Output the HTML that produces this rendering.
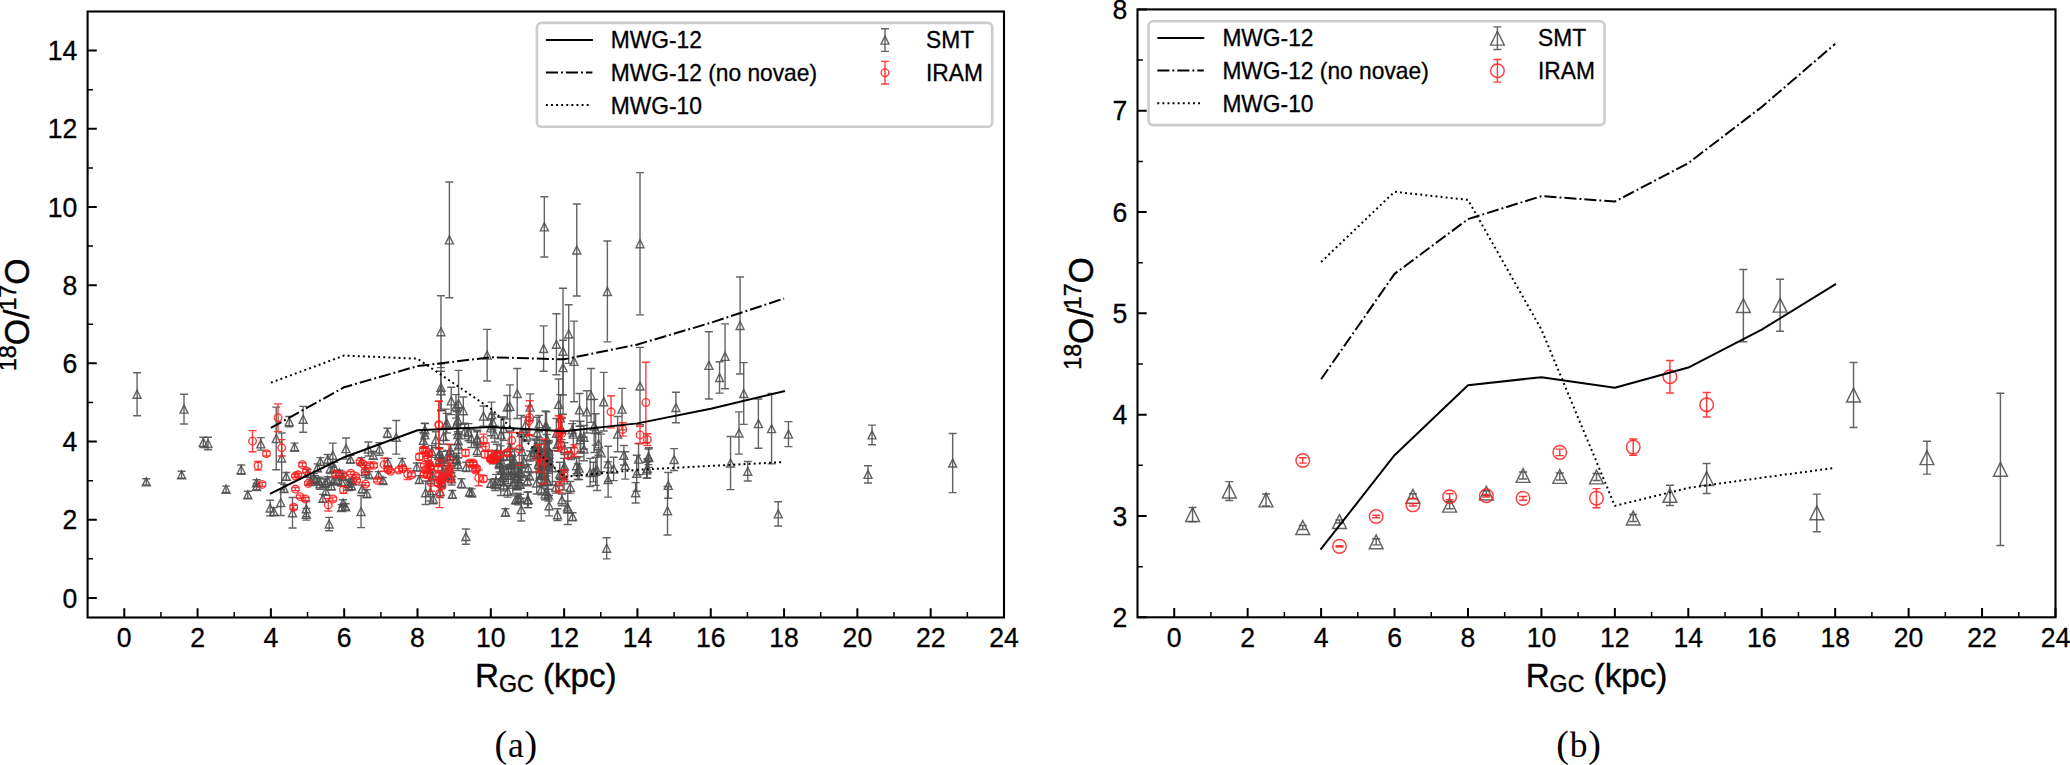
<!DOCTYPE html>
<html lang="en"><head><meta charset="utf-8"><title>18O/17O vs RGC</title>
<style>html,body{margin:0;padding:0;background:#fff}body{width:2070px;height:765px;overflow:hidden}svg{display:block}</style>
</head><body>
<svg width="2070" height="765" viewBox="0 0 2070 765">
<rect width="2070" height="765" fill="#fff"/>
<g id="panel-a">
<g fill="none" stroke="#4d4d4d" stroke-width="1.4" stroke-opacity="0.88">
<path d="M137.09 372.75V415.76M133.09 372.75h8M133.09 415.76h8"/><path d="M137.09 390.26L133.09 398.26L141.09 398.26Z"/>
<path d="M146.25 478.71V484.96M142.25 478.71h8M142.25 484.96h8"/><path d="M146.25 477.83L142.25 485.83L150.25 485.83Z"/>
<path d="M184.01 394.26V423.97M180.01 394.26h8M180.01 423.97h8"/><path d="M184.01 405.11L180.01 413.11L188.01 413.11Z"/>
<path d="M181.62 471.28V478.32M177.62 471.28h8M177.62 478.32h8"/><path d="M181.62 470.8L177.62 478.8L185.62 478.8Z"/>
<path d="M203.29 437.26V447.43M199.29 437.26h8M199.29 447.43h8"/><path d="M203.29 438.35L199.29 446.35L207.29 446.35Z"/>
<path d="M208.01 437.26V449.77M204.01 437.26h8M204.01 449.77h8"/><path d="M208.01 439.52L204.01 447.52L212.01 447.52Z"/>
<path d="M226.05 486.13V492.39M222.05 486.13h8M222.05 492.39h8"/><path d="M226.05 485.26L222.05 493.26L230.05 493.26Z"/>
<path d="M241.19 465.02V474.41M237.19 465.02h8M237.19 474.41h8"/><path d="M241.19 465.71L237.19 473.71L245.19 473.71Z"/>
<path d="M247.79 491.22V498.25M243.79 491.22h8M243.79 498.25h8"/><path d="M247.79 490.74L243.79 498.74L251.79 498.74Z"/>
<path d="M256.58 479.68V485.94M252.58 479.68h8M252.58 485.94h8"/><path d="M256.58 478.81L252.58 486.81L260.58 486.81Z"/>
<path d="M256.58 483.4V489.65M252.58 483.4h8M252.58 489.65h8"/><path d="M256.58 482.53L252.58 490.53L260.58 490.53Z"/>
<path d="M260.8 437.65V450.17M256.8 437.65h8M256.8 450.17h8"/><path d="M260.8 439.91L256.8 447.91L264.8 447.91Z"/>
<path d="M270.15 500.21V515.85M266.15 500.21h8M266.15 515.85h8"/><path d="M270.15 504.03L266.15 512.03L274.15 512.03Z"/>
<path d="M273.81 507.64V515.46M269.81 507.64h8M269.81 515.46h8"/><path d="M273.81 507.55L269.81 515.55L277.81 515.55Z"/>
<path d="M276.23 407.16V469.71M272.23 407.16h8M272.23 469.71h8"/><path d="M276.23 434.44L272.23 442.44L280.23 442.44Z"/>
<path d="M280.78 489.65V515.46M276.78 489.65h8M276.78 515.46h8"/><path d="M280.78 498.56L276.78 506.56L284.78 506.56Z"/>
<path d="M281.69 432.96V483.01M277.69 432.96h8M277.69 483.01h8"/><path d="M281.69 453.99L277.69 461.99L285.69 461.99Z"/>
<path d="M289.21 416.54V426.71M285.21 416.54h8M285.21 426.71h8"/><path d="M289.21 417.63L285.21 425.63L293.21 425.63Z"/>
<path d="M294.52 443.13V450.95M290.52 443.13h8M290.52 450.95h8"/><path d="M294.52 443.04L290.52 451.04L298.52 451.04Z"/>
<path d="M303.14 406.38V432.18M299.14 406.38h8M299.14 432.18h8"/><path d="M303.14 415.28L299.14 423.28L307.14 423.28Z"/>
<path d="M292.51 497.47V527.97M288.51 497.47h8M288.51 527.97h8"/><path d="M292.51 508.72L288.51 516.72L296.51 516.72Z"/>
<path d="M306.29 500.99V516.63M302.29 500.99h8M302.29 516.63h8"/><path d="M306.29 504.81L302.29 512.81L310.29 512.81Z"/>
<path d="M306.29 508.42V520.15M302.29 508.42h8M302.29 520.15h8"/><path d="M306.29 510.28L302.29 518.28L310.29 518.28Z"/>
<path d="M329.16 517.41V530.71M325.16 517.41h8M325.16 530.71h8"/><path d="M329.16 520.06L325.16 528.06L333.16 528.06Z"/>
<path d="M332.83 443.13V467.37M328.83 443.13h8M328.83 467.37h8"/><path d="M332.83 451.25L328.83 459.25L336.83 459.25Z"/>
<path d="M346.02 438.05V459.16M342.02 438.05h8M342.02 459.16h8"/><path d="M346.02 444.6L342.02 452.6L350.02 452.6Z"/>
<path d="M361.05 495.52V527.58M357.05 495.52h8M357.05 527.58h8"/><path d="M361.05 507.55L357.05 515.55L365.05 515.55Z"/>
<path d="M387.45 428.27V437.65M383.45 428.27h8M383.45 437.65h8"/><path d="M387.45 428.96L383.45 436.96L391.45 436.96Z"/>
<path d="M286.28 472.45V480.27M282.28 472.45h8M282.28 480.27h8"/><path d="M286.28 472.36L282.28 480.36L290.28 480.36Z"/>
<path d="M284.08 484.57V492.39M280.08 484.57h8M280.08 492.39h8"/><path d="M284.08 484.48L280.08 492.48L288.08 492.48Z"/>
<path d="M396.24 420.45V454.08M392.24 420.45h8M392.24 454.08h8"/><path d="M396.24 433.26L392.24 441.26L400.24 441.26Z"/>
<path d="M368.38 441.96V456.03M364.38 441.96h8M364.38 456.03h8"/><path d="M368.38 444.99L364.38 452.99L372.38 452.99Z"/>
<path d="M379.38 442.74V455.25M375.38 442.74h8M375.38 455.25h8"/><path d="M379.38 444.99L375.38 452.99L383.38 452.99Z"/>
<path d="M373.15 451.34V459.16M369.15 451.34h8M369.15 459.16h8"/><path d="M373.15 451.25L369.15 459.25L377.15 459.25Z"/>
<path d="M424.84 423.19V446.65M420.84 423.19h8M420.84 446.65h8"/><path d="M424.84 430.92L420.84 438.92L428.84 438.92Z"/>
<path d="M402.11 458.38V466.2M398.11 458.38h8M398.11 466.2h8"/><path d="M402.11 458.29L398.11 466.29L406.11 466.29Z"/>
<path d="M387.81 458.38V466.2M383.81 458.38h8M383.81 466.2h8"/><path d="M387.81 458.29L383.81 466.29L391.81 466.29Z"/>
<path d="M320.37 457.59V465.41M316.37 457.59h8M316.37 465.41h8"/><path d="M320.37 457.5L316.37 465.5L324.37 465.5Z"/>
<path d="M327.7 454.47V463.85M323.7 454.47h8M323.7 463.85h8"/><path d="M327.7 455.16L323.7 463.16L331.7 463.16Z"/>
<path d="M350.42 455.25V463.07M346.42 455.25h8M346.42 463.07h8"/><path d="M350.42 455.16L346.42 463.16L354.42 463.16Z"/>
<path d="M361.42 457.59V465.41M357.42 457.59h8M357.42 465.41h8"/><path d="M361.42 457.5L357.42 465.5L365.42 465.5Z"/>
<path d="M416.77 463.07V470.89M412.77 463.07h8M412.77 470.89h8"/><path d="M416.77 462.98L412.77 470.98L420.77 470.98Z"/>
<path d="M378.65 471.67V477.92M374.65 471.67h8M374.65 477.92h8"/><path d="M378.65 470.8L374.65 478.8L382.65 478.8Z"/>
<path d="M383.05 477.53V483.79M379.05 477.53h8M379.05 483.79h8"/><path d="M383.05 476.66L379.05 484.66L387.05 484.66Z"/>
<path d="M369.12 471.67V477.92M365.12 471.67h8M365.12 477.92h8"/><path d="M369.12 470.8L365.12 478.8L373.12 478.8Z"/>
<path d="M362.15 484.96V492.78M358.15 484.96h8M358.15 492.78h8"/><path d="M362.15 484.87L358.15 492.87L366.15 492.87Z"/>
<path d="M366.92 489.65V497.47M362.92 489.65h8M362.92 497.47h8"/><path d="M366.92 489.56L362.92 497.56L370.92 497.56Z"/>
<path d="M343.09 499.82V506.07M339.09 499.82h8M339.09 506.07h8"/><path d="M343.09 498.95L339.09 506.95L347.09 506.95Z"/>
<path d="M345.66 503.73V509.98M341.66 503.73h8M341.66 509.98h8"/><path d="M345.66 502.86L341.66 510.86L349.66 510.86Z"/>
<path d="M341.63 504.51V510.77M337.63 504.51h8M337.63 510.77h8"/><path d="M341.63 503.64L337.63 511.64L345.63 511.64Z"/>
<path d="M322.93 494.35V502.16M318.93 494.35h8M318.93 502.16h8"/><path d="M322.93 494.25L318.93 502.25L326.93 502.25Z"/>
<path d="M325.86 487.31V495.13M321.86 487.31h8M321.86 495.13h8"/><path d="M325.86 487.22L321.86 495.22L329.86 495.22Z"/>
<path d="M318.9 477.14V484.96M314.9 477.14h8M314.9 484.96h8"/><path d="M318.9 477.05L314.9 485.05L322.9 485.05Z"/>
<path d="M314.87 475.58V483.4M310.87 475.58h8M310.87 483.4h8"/><path d="M314.87 475.49L310.87 483.49L318.87 483.49Z"/>
<path d="M327.7 476.75V484.57M323.7 476.75h8M323.7 484.57h8"/><path d="M327.7 476.66L323.7 484.66L331.7 484.66Z"/>
<path d="M333.2 477.92V484.18M329.2 477.92h8M329.2 484.18h8"/><path d="M333.2 477.05L329.2 485.05L337.2 485.05Z"/>
<path d="M336.86 477.53V483.79M332.86 477.53h8M332.86 483.79h8"/><path d="M336.86 476.66L332.86 484.66L340.86 484.66Z"/>
<path d="M341.63 477.92V485.74M337.63 477.92h8M337.63 485.74h8"/><path d="M341.63 477.83L337.63 485.83L345.63 485.83Z"/>
<path d="M348.59 479.49V487.31M344.59 479.49h8M344.59 487.31h8"/><path d="M348.59 479.4L344.59 487.4L352.59 487.4Z"/>
<path d="M351.52 481.83V489.65M347.52 481.83h8M347.52 489.65h8"/><path d="M351.52 481.74L347.52 489.74L355.52 489.74Z"/>
<path d="M461.49 478.71V488.09M457.49 478.71h8M457.49 488.09h8"/><path d="M461.49 479.4L457.49 487.4L465.49 487.4Z"/>
<path d="M469.56 488.09V495.91M465.56 488.09h8M465.56 495.91h8"/><path d="M469.56 488L465.56 496L473.56 496Z"/>
<path d="M452.33 490.44V498.25M448.33 490.44h8M448.33 498.25h8"/><path d="M452.33 490.35L448.33 498.35L456.33 498.35Z"/>
<path d="M433.27 494.35V503.73M429.27 494.35h8M429.27 503.73h8"/><path d="M433.27 495.04L429.27 503.04L437.27 503.04Z"/>
<path d="M425.57 481.05V504.51M421.57 481.05h8M421.57 504.51h8"/><path d="M425.57 488.78L421.57 496.78L429.57 496.78Z"/>
<path d="M419.34 475.58V483.4M415.34 475.58h8M415.34 483.4h8"/><path d="M419.34 475.49L415.34 483.49L423.34 483.49Z"/>
<path d="M423.37 432.57V448.21M419.37 432.57h8M419.37 448.21h8"/><path d="M423.37 436.39L419.37 444.39L427.37 444.39Z"/>
<path d="M435.83 431.79V447.43M431.83 431.79h8M431.83 447.43h8"/><path d="M435.83 435.61L431.83 443.61L439.83 443.61Z"/>
<path d="M443.53 428.66V444.3M439.53 428.66h8M439.53 444.3h8"/><path d="M443.53 432.48L439.53 440.48L447.53 440.48Z"/>
<path d="M446.83 413.41V432.96M442.83 413.41h8M442.83 432.96h8"/><path d="M446.83 419.19L442.83 427.19L450.83 427.19Z"/>
<path d="M458.56 434.14V457.59M454.56 434.14h8M454.56 457.59h8"/><path d="M458.56 441.87L454.56 449.87L462.56 449.87Z"/>
<path d="M464.79 423.19V438.83M460.79 423.19h8M460.79 438.83h8"/><path d="M464.79 427.01L460.79 435.01L468.79 435.01Z"/>
<path d="M456.73 411.46V434.92M452.73 411.46h8M452.73 434.92h8"/><path d="M456.73 419.19L452.73 427.19L460.73 427.19Z"/>
<path d="M477.25 430.23V445.87M473.25 430.23h8M473.25 445.87h8"/><path d="M477.25 434.05L473.25 442.05L481.25 442.05Z"/>
<path d="M477.25 444.69V456.42M473.25 444.69h8M473.25 456.42h8"/><path d="M477.25 446.56L473.25 454.56L481.25 454.56Z"/>
<path d="M431.8 445.47V457.2M427.8 445.47h8M427.8 457.2h8"/><path d="M431.8 447.34L427.8 455.34L435.8 455.34Z"/>
<path d="M439.5 447.82V459.55M435.5 447.82h8M435.5 459.55h8"/><path d="M439.5 449.68L435.5 457.68L443.5 457.68Z"/>
<path d="M450.49 444.69V456.42M446.49 444.69h8M446.49 456.42h8"/><path d="M450.49 446.56L446.49 454.56L454.49 454.56Z"/>
<path d="M456.73 453.29V465.02M452.73 453.29h8M452.73 465.02h8"/><path d="M456.73 455.16L452.73 463.16L460.73 463.16Z"/>
<path d="M466.26 462.29V471.67M462.26 462.29h8M462.26 471.67h8"/><path d="M466.26 462.98L462.26 470.98L470.26 470.98Z"/>
<path d="M465.89 528.95V544.19M461.89 528.95h8M461.89 544.19h8"/><path d="M465.89 532.57L461.89 540.57L469.89 540.57Z"/>
<path d="M471.75 488.87V496.69M467.75 488.87h8M467.75 496.69h8"/><path d="M471.75 488.78L467.75 496.78L475.75 496.78Z"/>
<path d="M477.25 431.79V447.43M473.25 431.79h8M473.25 447.43h8"/><path d="M477.25 435.61L473.25 443.61L481.25 443.61Z"/>
<path d="M490.82 420.06V435.7M486.82 420.06h8M486.82 435.7h8"/><path d="M490.82 423.88L486.82 431.88L494.82 431.88Z"/>
<path d="M490.82 479.49V487.31M486.82 479.49h8M486.82 487.31h8"/><path d="M490.82 479.4L486.82 487.4L494.82 487.4Z"/>
<path d="M503.65 479.1V490.83M499.65 479.1h8M499.65 490.83h8"/><path d="M503.65 480.96L499.65 488.96L507.65 488.96Z"/>
<path d="M507.68 485.35V497.08M503.68 485.35h8M503.68 497.08h8"/><path d="M507.68 487.22L503.68 495.22L511.68 495.22Z"/>
<path d="M505.48 508.81V515.85M501.48 508.81h8M501.48 515.85h8"/><path d="M505.48 508.33L501.48 516.33L509.48 516.33Z"/>
<path d="M503.65 416.93V440.39M499.65 416.93h8M499.65 440.39h8"/><path d="M503.65 424.66L499.65 432.66L507.65 432.66Z"/>
<path d="M518.67 477.92V485.74M514.67 477.92h8M514.67 485.74h8"/><path d="M518.67 477.83L514.67 485.83L522.67 485.83Z"/>
<path d="M517.21 481.83V489.65M513.21 481.83h8M513.21 489.65h8"/><path d="M517.21 481.74L513.21 489.74L521.21 489.74Z"/>
<path d="M520.14 480.27V488.09M516.14 480.27h8M516.14 488.09h8"/><path d="M520.14 480.18L516.14 488.18L524.14 488.18Z"/>
<path d="M515.74 495.91V503.73M511.74 495.91h8M511.74 503.73h8"/><path d="M515.74 495.82L511.74 503.82L519.74 503.82Z"/>
<path d="M520.14 494.35V502.16M516.14 494.35h8M516.14 502.16h8"/><path d="M520.14 494.25L516.14 502.25L524.14 502.25Z"/>
<path d="M528.21 492V507.64M524.21 492h8M524.21 507.64h8"/><path d="M528.21 495.82L524.21 503.82L532.21 503.82Z"/>
<path d="M521.24 498.25V520.93M517.24 498.25h8M517.24 520.93h8"/><path d="M521.24 505.59L517.24 513.59L525.24 513.59Z"/>
<path d="M541.4 483.01V494.74M537.4 483.01h8M537.4 494.74h8"/><path d="M541.4 484.87L537.4 492.87L545.4 492.87Z"/>
<path d="M548.37 489.26V500.99M544.37 489.26h8M544.37 500.99h8"/><path d="M548.37 491.13L544.37 499.13L552.37 499.13Z"/>
<path d="M549.1 495.52V515.85M545.1 495.52h8M545.1 515.85h8"/><path d="M549.1 501.68L545.1 509.68L553.1 509.68Z"/>
<path d="M555.7 481.44V493.17M551.7 481.44h8M551.7 493.17h8"/><path d="M555.7 483.31L551.7 491.31L559.7 491.31Z"/>
<path d="M557.53 508.81V520.54M553.53 508.81h8M553.53 520.54h8"/><path d="M557.53 510.68L553.53 518.68L561.53 518.68Z"/>
<path d="M561.93 493.95V505.68M557.93 493.95h8M557.93 505.68h8"/><path d="M561.93 495.82L557.93 503.82L565.93 503.82Z"/>
<path d="M567.43 500.99V512.72M563.43 500.99h8M563.43 512.72h8"/><path d="M567.43 502.86L563.43 510.86L571.43 510.86Z"/>
<path d="M567.79 493.17V524.45M563.79 493.17h8M563.79 524.45h8"/><path d="M567.79 504.81L563.79 512.81L571.79 512.81Z"/>
<path d="M572.56 512.72V520.54M568.56 512.72h8M568.56 520.54h8"/><path d="M572.56 512.63L568.56 520.63L576.56 520.63Z"/>
<path d="M570.36 481.44V493.17M566.36 481.44h8M566.36 493.17h8"/><path d="M570.36 483.31L566.36 491.31L574.36 491.31Z"/>
<path d="M577.69 463.85V479.49M573.69 463.85h8M573.69 479.49h8"/><path d="M577.69 467.67L573.69 475.67L581.69 475.67Z"/>
<path d="M583.92 425.53V448.99M579.92 425.53h8M579.92 448.99h8"/><path d="M583.92 433.26L579.92 441.26L587.92 441.26Z"/>
<path d="M583.92 437.26V460.72M579.92 437.26h8M579.92 460.72h8"/><path d="M583.92 444.99L579.92 452.99L587.92 452.99Z"/>
<path d="M590.15 458.38V486.53M586.15 458.38h8M586.15 486.53h8"/><path d="M590.15 468.45L586.15 476.45L594.15 476.45Z"/>
<path d="M597.12 449.77V490.44M593.12 449.77h8M593.12 490.44h8"/><path d="M597.12 466.11L593.12 474.11L601.12 474.11Z"/>
<path d="M595.65 413.81V445.08M591.65 413.81h8M591.65 445.08h8"/><path d="M595.65 425.44L591.65 433.44L599.65 433.44Z"/>
<path d="M608.12 446.26V481.44M604.12 446.26h8M604.12 481.44h8"/><path d="M608.12 459.85L604.12 467.85L612.12 467.85Z"/>
<path d="M608.12 461.89V497.08M604.12 461.89h8M604.12 497.08h8"/><path d="M608.12 475.49L604.12 483.49L612.12 483.49Z"/>
<path d="M617.65 416.54V451.73M613.65 416.54h8M613.65 451.73h8"/><path d="M617.65 430.14L613.65 438.14L621.65 438.14Z"/>
<path d="M623.88 445.47V465.02M619.88 445.47h8M619.88 465.02h8"/><path d="M623.88 451.25L619.88 459.25L627.88 459.25Z"/>
<path d="M625.34 451.73V479.1M621.34 451.73h8M621.34 479.1h8"/><path d="M625.34 461.41L621.34 469.41L629.34 469.41Z"/>
<path d="M635.61 482.62V502.95M631.61 482.62h8M631.61 502.95h8"/><path d="M635.61 488.78L631.61 496.78L639.61 496.78Z"/>
<path d="M638.54 443.52V474.8M634.54 443.52h8M634.54 474.8h8"/><path d="M638.54 455.16L634.54 463.16L642.54 463.16Z"/>
<path d="M647.34 458.77V478.32M643.34 458.77h8M643.34 478.32h8"/><path d="M647.34 464.54L643.34 472.54L651.34 472.54Z"/>
<path d="M648.8 447.82V467.37M644.8 447.82h8M644.8 467.37h8"/><path d="M648.8 453.59L644.8 461.59L652.8 461.59Z"/>
<path d="M606.65 537.74V558.85M602.65 537.74h8M602.65 558.85h8"/><path d="M606.65 544.3L602.65 552.3L610.65 552.3Z"/>
<path d="M517.94 493.17V504.9M513.94 493.17h8M513.94 504.9h8"/><path d="M517.94 495.04L513.94 503.04L521.94 503.04Z"/>
<path d="M527.47 492V507.64M523.47 492h8M523.47 507.64h8"/><path d="M527.47 495.82L523.47 503.82L531.47 503.82Z"/>
<path d="M545.07 488.09V499.82M541.07 488.09h8M541.07 499.82h8"/><path d="M545.07 489.95L541.07 497.95L549.07 497.95Z"/>
<path d="M449.39 181.96V297.69M445.39 181.96h8M445.39 297.69h8"/><path d="M449.39 235.83L445.39 243.83L453.39 243.83Z"/>
<path d="M544.33 196.82V257.03M540.33 196.82h8M540.33 257.03h8"/><path d="M544.33 222.92L540.33 230.92L548.33 230.92Z"/>
<path d="M576.77 204.05V295.93M572.77 204.05h8M572.77 295.93h8"/><path d="M576.77 245.99L572.77 253.99L580.77 253.99Z"/>
<path d="M607.38 241V341.87M603.38 241h8M603.38 341.87h8"/><path d="M607.38 287.43L603.38 295.43L611.38 295.43Z"/>
<path d="M640.01 172.58V314.89M636.01 172.58h8M636.01 314.89h8"/><path d="M640.01 239.73L636.01 247.73L644.01 247.73Z"/>
<path d="M440.96 295.73V367.67M436.96 295.73h8M436.96 367.67h8"/><path d="M440.96 327.7L436.96 335.7L444.96 335.7Z"/>
<path d="M440.96 363.76V410.68M436.96 363.76h8M436.96 410.68h8"/><path d="M440.96 383.22L436.96 391.22L444.96 391.22Z"/>
<path d="M440.96 371.19V410.29M436.96 371.19h8M436.96 410.29h8"/><path d="M440.96 386.74L436.96 394.74L444.96 394.74Z"/>
<path d="M487.15 329.36V380.96M483.15 329.36h8M483.15 380.96h8"/><path d="M487.15 351.16L483.15 359.16L491.15 359.16Z"/>
<path d="M543.6 325.84V371.19M539.6 325.84h8M539.6 371.19h8"/><path d="M543.6 344.51L539.6 352.51L547.6 352.51Z"/>
<path d="M556.43 313.72V374.71M552.43 313.72h8M552.43 374.71h8"/><path d="M556.43 340.21L552.43 348.21L560.43 348.21Z"/>
<path d="M563.03 288.31V414.2M559.03 288.31h8M559.03 414.2h8"/><path d="M563.03 347.25L559.03 355.25L567.03 355.25Z"/>
<path d="M563.03 340.3V395.04M559.03 340.3h8M559.03 395.04h8"/><path d="M563.03 363.67L559.03 371.67L567.03 371.67Z"/>
<path d="M568.71 304.73V363.37M564.71 304.73h8M564.71 363.37h8"/><path d="M568.71 330.05L564.71 338.05L572.71 338.05Z"/>
<path d="M574.03 321.15V401.69M570.03 321.15h8M570.03 401.69h8"/><path d="M574.03 357.42L570.03 365.42L578.03 365.42Z"/>
<path d="M640.01 347.34V424.75M636.01 347.34h8M636.01 424.75h8"/><path d="M640.01 382.05L636.01 390.05L644.01 390.05Z"/>
<path d="M517.21 368.45V418.5M513.21 368.45h8M513.21 418.5h8"/><path d="M517.21 389.48L513.21 397.48L521.21 397.48Z"/>
<path d="M509.88 384.87V427.88M505.88 384.87h8M505.88 427.88h8"/><path d="M509.88 402.38L505.88 410.38L513.88 410.38Z"/>
<path d="M458.56 370.41V436.87M454.56 370.41h8M454.56 436.87h8"/><path d="M458.56 399.64L454.56 407.64L462.56 407.64Z"/>
<path d="M451.23 387.22V414.59M447.23 387.22h8M447.23 414.59h8"/><path d="M451.23 396.9L447.23 404.9L455.23 404.9Z"/>
<path d="M455.99 394.65V418.11M451.99 394.65h8M451.99 418.11h8"/><path d="M455.99 402.38L451.99 410.38L459.99 410.38Z"/>
<path d="M463.32 396.99V424.36M459.32 396.99h8M459.32 424.36h8"/><path d="M463.32 406.68L459.32 414.68L467.32 414.68Z"/>
<path d="M457.83 408.33V431.79M453.83 408.33h8M453.83 431.79h8"/><path d="M457.83 416.06L453.83 424.06L461.83 424.06Z"/>
<path d="M445.73 409.11V440.39M441.73 409.11h8M441.73 440.39h8"/><path d="M445.73 420.75L441.73 428.75L449.73 428.75Z"/>
<path d="M483.48 405.99V426.32M479.48 405.99h8M479.48 426.32h8"/><path d="M483.48 412.15L479.48 420.15L487.48 420.15Z"/>
<path d="M491.55 402.08V427.1M487.55 402.08h8M487.55 427.1h8"/><path d="M491.55 410.59L487.55 418.59L495.55 418.59Z"/>
<path d="M492.65 414.2V429.84M488.65 414.2h8M488.65 429.84h8"/><path d="M492.65 418.02L488.65 426.02L496.65 426.02Z"/>
<path d="M507.31 395.43V418.89M503.31 395.43h8M503.31 418.89h8"/><path d="M507.31 403.16L503.31 411.16L511.31 411.16Z"/>
<path d="M530.04 393.87V420.45M526.04 393.87h8M526.04 420.45h8"/><path d="M530.04 403.16L526.04 411.16L534.04 411.16Z"/>
<path d="M525.64 416.93V432.57M521.64 416.93h8M521.64 432.57h8"/><path d="M525.64 420.75L521.64 428.75L529.64 428.75Z"/>
<path d="M539.2 415.37V431.79M535.2 415.37h8M535.2 431.79h8"/><path d="M539.2 419.58L535.2 427.58L543.2 427.58Z"/>
<path d="M546.53 411.85V440.78M542.53 411.85h8M542.53 440.78h8"/><path d="M546.53 422.32L542.53 430.32L550.53 430.32Z"/>
<path d="M558.63 379.01V429.84M554.63 379.01h8M554.63 429.84h8"/><path d="M558.63 400.42L554.63 408.42L562.63 408.42Z"/>
<path d="M560.46 394.65V441.56M556.46 394.65h8M556.46 441.56h8"/><path d="M560.46 414.11L556.46 422.11L564.46 422.11Z"/>
<path d="M579.52 393.48V426.32M575.52 393.48h8M575.52 426.32h8"/><path d="M579.52 405.9L575.52 413.9L583.52 413.9Z"/>
<path d="M586.85 390.74V432.96M582.85 390.74h8M582.85 432.96h8"/><path d="M586.85 407.85L582.85 415.85L590.85 415.85Z"/>
<path d="M591.07 368.45V422.41M587.07 368.45h8M587.07 422.41h8"/><path d="M591.07 391.43L587.07 399.43L595.07 399.43Z"/>
<path d="M594.19 399.34V452.51M590.19 399.34h8M590.19 452.51h8"/><path d="M594.19 421.93L590.19 429.93L598.19 429.93Z"/>
<path d="M603.72 372.36V431.01M599.72 372.36h8M599.72 431.01h8"/><path d="M603.72 397.69L599.72 405.69L607.72 405.69Z"/>
<path d="M622.04 388.39V429.84M618.04 388.39h8M618.04 429.84h8"/><path d="M622.04 405.11L618.04 413.11L626.04 413.11Z"/>
<path d="M675.93 392.3V422.8M671.93 392.3h8M671.93 422.8h8"/><path d="M675.93 403.55L671.93 411.55L679.93 411.55Z"/>
<path d="M424.84 423.58V436.09M420.84 423.58h8M420.84 436.09h8"/><path d="M424.84 425.84L420.84 433.84L428.84 433.84Z"/>
<path d="M572.19 423.58V436.09M568.19 423.58h8M568.19 436.09h8"/><path d="M572.19 425.84L568.19 433.84L576.19 433.84Z"/>
<path d="M708.92 331.7V398.95M704.92 331.7h8M704.92 398.95h8"/><path d="M708.92 361.33L704.92 369.33L712.92 369.33Z"/>
<path d="M719.55 361.81V393.08M715.55 361.81h8M715.55 393.08h8"/><path d="M719.55 373.45L715.55 381.45L723.55 381.45Z"/>
<path d="M725.05 323.88V388.78M721.05 323.88h8M721.05 388.78h8"/><path d="M725.05 352.33L721.05 360.33L729.05 360.33Z"/>
<path d="M740.08 276.97V373.93M736.08 276.97h8M736.08 373.93h8"/><path d="M740.08 321.45L736.08 329.45L744.08 329.45Z"/>
<path d="M743.74 362.59V424.36M739.74 362.59h8M739.74 424.36h8"/><path d="M743.74 389.48L739.74 397.48L747.74 397.48Z"/>
<path d="M738.98 411.85V454.08M734.98 411.85h8M734.98 454.08h8"/><path d="M738.98 428.96L734.98 436.96L742.98 436.96Z"/>
<path d="M730.55 436.48V489.65M726.55 436.48h8M726.55 489.65h8"/><path d="M730.55 459.07L726.55 467.07L734.55 467.07Z"/>
<path d="M747.77 461.5V481.05M743.77 461.5h8M743.77 481.05h8"/><path d="M747.77 467.28L743.77 475.28L751.77 475.28Z"/>
<path d="M758.4 398.95V448.21M754.4 398.95h8M754.4 448.21h8"/><path d="M758.4 419.58L754.4 427.58L762.4 427.58Z"/>
<path d="M771.6 393.48V463.85M767.6 393.48h8M767.6 463.85h8"/><path d="M771.6 424.66L767.6 432.66L775.6 432.66Z"/>
<path d="M788.46 421.63V446.65M784.46 421.63h8M784.46 446.65h8"/><path d="M788.46 430.14L784.46 438.14L792.46 438.14Z"/>
<path d="M778.2 501.77V526.01M774.2 501.77h8M774.2 526.01h8"/><path d="M778.2 509.89L774.2 517.89L782.2 517.89Z"/>
<path d="M872.04 425.14V444.69M868.04 425.14h8M868.04 444.69h8"/><path d="M872.04 430.92L868.04 438.92L876.04 438.92Z"/>
<path d="M868.01 465.8V483.01M864.01 465.8h8M864.01 483.01h8"/><path d="M868.01 470.41L864.01 478.41L872.01 478.41Z"/>
<path d="M952.68 433.55V492.59M948.68 433.55h8M948.68 492.59h8"/><path d="M952.68 459.07L948.68 467.07L956.68 467.07Z"/>
<path d="M667.5 486.53V535.01M663.5 486.53h8M663.5 535.01h8"/><path d="M667.5 506.77L663.5 514.77L671.5 514.77Z"/>
<path d="M668.23 472.45V498.25M664.23 472.45h8M664.23 498.25h8"/><path d="M668.23 481.35L664.23 489.35L672.23 489.35Z"/>
<path d="M674.1 448.6V470.5M670.1 448.6h8M670.1 470.5h8"/><path d="M674.1 455.55L670.1 463.55L678.1 463.55Z"/>
<path d="M648.44 448.99V464.63M644.44 448.99h8M644.44 464.63h8"/><path d="M648.44 452.81L644.44 460.81L652.44 460.81Z"/>
<path d="M646.6 462.29V477.92M642.6 462.29h8M642.6 477.92h8"/><path d="M646.6 466.11L642.6 474.11L650.6 474.11Z"/>
<path d="M517.94 462.68V488.48M513.94 462.68h8M513.94 488.48h8"/><path d="M517.94 471.58L513.94 479.58L521.94 479.58Z"/>
<path d="M497.05 444.3V462.29M493.05 444.3h8M493.05 462.29h8"/><path d="M497.05 449.29L493.05 457.29L501.05 457.29Z"/>
<path d="M495.58 450.56V459.16M491.58 450.56h8M491.58 459.16h8"/><path d="M495.58 450.86L491.58 458.86L499.58 458.86Z"/>
<path d="M527.47 475.58V485.74M523.47 475.58h8M523.47 485.74h8"/><path d="M527.47 476.66L523.47 484.66L531.47 484.66Z"/>
<path d="M526.74 430.62V441.56M522.74 430.62h8M522.74 441.56h8"/><path d="M526.74 432.09L522.74 440.09L530.74 440.09Z"/>
<path d="M509.51 431.01V464.63M505.51 431.01h8M505.51 464.63h8"/><path d="M509.51 443.82L505.51 451.82L513.51 451.82Z"/>
<path d="M539.57 443.91V478.32M535.57 443.91h8M535.57 478.32h8"/><path d="M539.57 457.11L535.57 465.11L543.57 465.11Z"/>
<path d="M494.85 426.32V441.96M490.85 426.32h8M490.85 441.96h8"/><path d="M494.85 430.14L490.85 438.14L498.85 438.14Z"/>
<path d="M502.91 469.32V485.74M498.91 469.32h8M498.91 485.74h8"/><path d="M502.91 473.53L498.91 481.53L506.91 481.53Z"/>
<path d="M559.73 462.29V485.74M555.73 462.29h8M555.73 485.74h8"/><path d="M559.73 470.01L555.73 478.01L563.73 478.01Z"/>
<path d="M544.7 451.34V474.01M540.7 451.34h8M540.7 474.01h8"/><path d="M544.7 458.68L540.7 466.68L548.7 466.68Z"/>
<path d="M495.95 474.41V487.7M491.95 474.41h8M491.95 487.7h8"/><path d="M495.95 477.05L491.95 485.05L499.95 485.05Z"/>
<path d="M548 451.34V467.76M544 451.34h8M544 467.76h8"/><path d="M548 455.55L544 463.55L552 463.55Z"/>
<path d="M540.3 450.17V465.8M536.3 450.17h8M536.3 465.8h8"/><path d="M540.3 453.99L536.3 461.99L544.3 461.99Z"/>
<path d="M557.9 436.09V450.95M553.9 436.09h8M553.9 450.95h8"/><path d="M557.9 439.52L553.9 447.52L561.9 447.52Z"/>
<path d="M539.2 437.65V469.71M535.2 437.65h8M535.2 469.71h8"/><path d="M539.2 449.68L535.2 457.68L543.2 457.68Z"/>
<path d="M552.4 450.56V484.96M548.4 450.56h8M548.4 484.96h8"/><path d="M552.4 463.76L548.4 471.76L556.4 471.76Z"/>
<path d="M500.71 445.87V474.01M496.71 445.87h8M496.71 474.01h8"/><path d="M500.71 455.94L496.71 463.94L504.71 463.94Z"/>
<path d="M503.65 451.73V460.33M499.65 451.73h8M499.65 460.33h8"/><path d="M503.65 452.03L499.65 460.03L507.65 460.03Z"/>
<path d="M547.27 427.88V451.34M543.27 427.88h8M543.27 451.34h8"/><path d="M547.27 435.61L543.27 443.61L551.27 443.61Z"/>
<path d="M564.49 452.9V479.49M560.49 452.9h8M560.49 479.49h8"/><path d="M564.49 462.2L560.49 470.2L568.49 470.2Z"/>
<path d="M541.03 440.39V460.72M537.03 440.39h8M537.03 460.72h8"/><path d="M541.03 446.56L537.03 454.56L545.03 454.56Z"/>
<path d="M561.56 418.5V439.61M557.56 418.5h8M557.56 439.61h8"/><path d="M561.56 425.05L557.56 433.05L565.56 433.05Z"/>
<path d="M546.9 467.37V494.74M542.9 467.37h8M542.9 494.74h8"/><path d="M546.9 477.05L542.9 485.05L550.9 485.05Z"/>
<path d="M545.43 411.07V441.56M541.43 411.07h8M541.43 441.56h8"/><path d="M545.43 422.32L541.43 430.32L549.43 430.32Z"/>
<path d="M514.64 448.99V474.8M510.64 448.99h8M510.64 474.8h8"/><path d="M514.64 457.89L510.64 465.89L518.64 465.89Z"/>
<path d="M492.65 451.34V463.85M488.65 451.34h8M488.65 463.85h8"/><path d="M492.65 453.59L488.65 461.59L496.65 461.59Z"/>
<path d="M500.71 466.59V495.52M496.71 466.59h8M496.71 495.52h8"/><path d="M500.71 477.05L496.71 485.05L504.71 485.05Z"/>
<path d="M501.81 460.72V479.49M497.81 460.72h8M497.81 479.49h8"/><path d="M501.81 466.11L497.81 474.11L505.81 474.11Z"/>
<path d="M564.13 469.71V490.04M560.13 469.71h8M560.13 490.04h8"/><path d="M564.13 475.88L560.13 483.88L568.13 483.88Z"/>
<path d="M537 417.32V447.82M533 417.32h8M533 447.82h8"/><path d="M537 428.57L533 436.57L541 436.57Z"/>
<path d="M563.76 458.38V477.92M559.76 458.38h8M559.76 477.92h8"/><path d="M563.76 464.15L559.76 472.15L567.76 472.15Z"/>
<path d="M521.24 415.37V449.77M517.24 415.37h8M517.24 449.77h8"/><path d="M521.24 428.57L517.24 436.57L525.24 436.57Z"/>
<path d="M503.65 467.37V481.44M499.65 467.37h8M499.65 481.44h8"/><path d="M503.65 470.41L499.65 478.41L507.65 478.41Z"/>
<path d="M510.61 443.91V468.15M506.61 443.91h8M506.61 468.15h8"/><path d="M510.61 452.03L506.61 460.03L514.61 460.03Z"/>
<path d="M512.81 474.41V493.95M508.81 474.41h8M508.81 493.95h8"/><path d="M512.81 480.18L508.81 488.18L516.81 488.18Z"/>
<path d="M521.97 434.53V468.15M517.97 434.53h8M517.97 468.15h8"/><path d="M521.97 447.34L517.97 455.34L525.97 455.34Z"/>
<path d="M549.1 441.96V466.98M545.1 441.96h8M545.1 466.98h8"/><path d="M549.1 450.47L545.1 458.47L553.1 458.47Z"/>
<path d="M548 465.41V497.47M544 465.41h8M544 497.47h8"/><path d="M548 477.44L544 485.44L552 485.44Z"/>
<path d="M556.43 418.5V448.21M552.43 418.5h8M552.43 448.21h8"/><path d="M556.43 429.35L552.43 437.35L560.43 437.35Z"/>
<path d="M523.81 455.64V466.59M519.81 455.64h8M519.81 466.59h8"/><path d="M523.81 457.11L519.81 465.11L527.81 465.11Z"/>
<path d="M544.33 476.36V485.74M540.33 476.36h8M540.33 485.74h8"/><path d="M544.33 477.05L540.33 485.05L548.33 485.05Z"/>
<path d="M508.41 466.59V483.79M504.41 466.59h8M504.41 483.79h8"/><path d="M508.41 471.19L504.41 479.19L512.41 479.19Z"/>
<path d="M495.21 478.71V490.44M491.21 478.71h8M491.21 490.44h8"/><path d="M495.21 480.57L491.21 488.57L499.21 488.57Z"/>
<path d="M499.25 458.77V467.37M495.25 458.77h8M495.25 467.37h8"/><path d="M499.25 459.07L495.25 467.07L503.25 467.07Z"/>
<path d="M564.49 442.74V454.47M560.49 442.74h8M560.49 454.47h8"/><path d="M564.49 444.6L560.49 452.6L568.49 452.6Z"/>
<path d="M512.08 455.25V473.23M508.08 455.25h8M508.08 473.23h8"/><path d="M512.08 460.24L508.08 468.24L516.08 468.24Z"/>
<path d="M501.08 417.32V452.51M497.08 417.32h8M497.08 452.51h8"/><path d="M501.08 430.92L497.08 438.92L505.08 438.92Z"/>
<path d="M530.04 450.95V461.11M526.04 450.95h8M526.04 461.11h8"/><path d="M530.04 452.03L526.04 460.03L534.04 460.03Z"/>
<path d="M499.61 457.2V472.06M495.61 457.2h8M495.61 472.06h8"/><path d="M499.61 460.63L495.61 468.63L503.61 468.63Z"/>
<path d="M560.83 470.89V479.49M556.83 470.89h8M556.83 479.49h8"/><path d="M560.83 471.19L556.83 479.19L564.83 479.19Z"/>
<path d="M571.09 447.82V459.55M567.09 447.82h8M567.09 459.55h8"/><path d="M571.09 449.68L567.09 457.68L575.09 457.68Z"/>
<path d="M536.64 472.06V493.95M532.64 472.06h8M532.64 493.95h8"/><path d="M536.64 479.01L532.64 487.01L540.64 487.01Z"/>
<path d="M573.29 420.84V447.43M569.29 420.84h8M569.29 447.43h8"/><path d="M573.29 430.14L569.29 438.14L577.29 438.14Z"/>
<path d="M512.81 456.81V469.32M508.81 456.81h8M508.81 469.32h8"/><path d="M512.81 459.07L508.81 467.07L516.81 467.07Z"/>
<path d="M539.57 452.12V471.67M535.57 452.12h8M535.57 471.67h8"/><path d="M539.57 457.89L535.57 465.89L543.57 465.89Z"/>
<path d="M520.14 462.68V483.01M516.14 462.68h8M516.14 483.01h8"/><path d="M520.14 468.84L516.14 476.84L524.14 476.84Z"/>
<path d="M548.73 440.39V460.72M544.73 440.39h8M544.73 460.72h8"/><path d="M548.73 446.56L544.73 454.56L552.73 454.56Z"/>
<path d="M541.4 449.38V459.55M537.4 449.38h8M537.4 459.55h8"/><path d="M541.4 450.47L537.4 458.47L545.4 458.47Z"/>
<path d="M528.21 464.63V471.67M524.21 464.63h8M524.21 471.67h8"/><path d="M528.21 464.15L524.21 472.15L532.21 472.15Z"/>
<path d="M506.58 465.41V476.36M502.58 465.41h8M502.58 476.36h8"/><path d="M506.58 466.89L502.58 474.89L510.58 474.89Z"/>
<path d="M535.9 440V454.08M531.9 440h8M531.9 454.08h8"/><path d="M535.9 443.04L531.9 451.04L539.9 451.04Z"/>
<path d="M546.53 434.53V457.2M542.53 434.53h8M542.53 457.2h8"/><path d="M546.53 441.87L542.53 449.87L550.53 449.87Z"/>
<path d="M521.61 467.76V477.92M517.61 467.76h8M517.61 477.92h8"/><path d="M521.61 468.84L517.61 476.84L525.61 476.84Z"/>
<path d="M514.28 465.02V482.23M510.28 465.02h8M510.28 482.23h8"/><path d="M514.28 469.62L510.28 477.62L518.28 477.62Z"/>
<path d="M545.07 443.52V458.38M541.07 443.52h8M541.07 458.38h8"/><path d="M545.07 446.95L541.07 454.95L549.07 454.95Z"/>
<path d="M534.07 448.6V456.42M530.07 448.6h8M530.07 456.42h8"/><path d="M534.07 448.51L530.07 456.51L538.07 456.51Z"/>
<path d="M534.44 438.83V458.38M530.44 438.83h8M530.44 458.38h8"/><path d="M534.44 444.6L530.44 452.6L538.44 452.6Z"/>
<path d="M538.47 459.16V468.54M534.47 459.16h8M534.47 468.54h8"/><path d="M538.47 459.85L534.47 467.85L542.47 467.85Z"/>
<path d="M540.3 458.77V479.1M536.3 458.77h8M536.3 479.1h8"/><path d="M540.3 464.93L536.3 472.93L544.3 472.93Z"/>
<path d="M548.37 459.94V473.23M544.37 459.94h8M544.37 473.23h8"/><path d="M548.37 462.59L544.37 470.59L552.37 470.59Z"/>
<path d="M547.27 450.56V459.94M543.27 450.56h8M543.27 459.94h8"/><path d="M547.27 451.25L543.27 459.25L551.27 459.25Z"/>
<path d="M510.98 464.24V486.13M506.98 464.24h8M506.98 486.13h8"/><path d="M510.98 471.19L506.98 479.19L514.98 479.19Z"/>
<path d="M541.03 465.41V485.74M537.03 465.41h8M537.03 485.74h8"/><path d="M541.03 471.58L537.03 479.58L545.03 479.58Z"/>
<path d="M548.73 451.34V463.85M544.73 451.34h8M544.73 463.85h8"/><path d="M548.73 453.59L544.73 461.59L552.73 461.59Z"/>
<path d="M529.67 472.84V479.1M525.67 472.84h8M525.67 479.1h8"/><path d="M529.67 471.97L525.67 479.97L533.67 479.97Z"/>
<path d="M548.37 450.17V465.8M544.37 450.17h8M544.37 465.8h8"/><path d="M548.37 453.99L544.37 461.99L552.37 461.99Z"/>
<path d="M546.53 454.86V475.97M542.53 454.86h8M542.53 475.97h8"/><path d="M546.53 461.41L542.53 469.41L550.53 469.41Z"/>
<path d="M541.77 467.76V478.71M537.77 467.76h8M537.77 478.71h8"/><path d="M541.77 469.23L537.77 477.23L545.77 477.23Z"/>
<path d="M518.31 463.85V480.27M514.31 463.85h8M514.31 480.27h8"/><path d="M518.31 468.06L514.31 476.06L522.31 476.06Z"/>
<path d="M432.53 472.06V479.88M428.53 472.06h8M428.53 479.88h8"/><path d="M432.53 471.97L428.53 479.97L436.53 479.97Z"/>
<path d="M451.59 472.45V484.96M447.59 472.45h8M447.59 484.96h8"/><path d="M451.59 474.71L447.59 482.71L455.59 482.71Z"/>
<path d="M442.06 451.34V463.07M438.06 451.34h8M438.06 463.07h8"/><path d="M442.06 453.2L438.06 461.2L446.06 461.2Z"/>
<path d="M451.59 466.2V479.49M447.59 466.2h8M447.59 479.49h8"/><path d="M451.59 468.84L447.59 476.84L455.59 476.84Z"/>
<path d="M440.23 485.74V497.47M436.23 485.74h8M436.23 497.47h8"/><path d="M440.23 487.61L436.23 495.61L444.23 495.61Z"/>
<path d="M430.33 483.79V500.99M426.33 483.79h8M426.33 500.99h8"/><path d="M430.33 488.39L426.33 496.39L434.33 496.39Z"/>
<path d="M429.97 466.2V481.83M425.97 466.2h8M425.97 481.83h8"/><path d="M429.97 470.01L425.97 478.01L433.97 478.01Z"/>
<path d="M441.33 472.84V486.13M437.33 472.84h8M437.33 486.13h8"/><path d="M441.33 475.49L437.33 483.49L445.33 483.49Z"/>
<path d="M440.96 457.99V465.8M436.96 457.99h8M436.96 465.8h8"/><path d="M440.96 457.89L436.96 465.89L444.96 465.89Z"/>
<path d="M441.33 477.53V487.7M437.33 477.53h8M437.33 487.7h8"/><path d="M441.33 478.62L437.33 486.62L445.33 486.62Z"/>
<path d="M447.56 465.41V479.49M443.56 465.41h8M443.56 479.49h8"/><path d="M447.56 468.45L443.56 476.45L451.56 476.45Z"/>
<path d="M447.2 450.56V463.07M443.2 450.56h8M443.2 463.07h8"/><path d="M447.2 452.81L443.2 460.81L451.2 460.81Z"/>
<path d="M442.8 465.8V479.1M438.8 465.8h8M438.8 479.1h8"/><path d="M442.8 468.45L438.8 476.45L446.8 476.45Z"/>
<path d="M445 468.15V481.44M441 468.15h8M441 481.44h8"/><path d="M445 470.8L441 478.8L449 478.8Z"/>
<path d="M438.76 447.82V463.46M434.76 447.82h8M434.76 463.46h8"/><path d="M438.76 451.64L434.76 459.64L442.76 459.64Z"/>
<path d="M450.49 450.95V460.33M446.49 450.95h8M446.49 460.33h8"/><path d="M450.49 451.64L446.49 459.64L454.49 459.64Z"/>
<path d="M468.46 423.58V440.78M464.46 423.58h8M464.46 440.78h8"/><path d="M468.46 428.18L464.46 436.18L472.46 436.18Z"/>
<path d="M457.83 457.99V470.5M453.83 457.99h8M453.83 470.5h8"/><path d="M457.83 460.24L453.83 468.24L461.83 468.24Z"/>
<path d="M455.99 456.03V463.07M451.99 456.03h8M451.99 463.07h8"/><path d="M455.99 455.55L451.99 463.55L459.99 463.55Z"/>
<path d="M471.39 429.44V447.43M467.39 429.44h8M467.39 447.43h8"/><path d="M471.39 434.44L467.39 442.44L475.39 442.44Z"/>
<path d="M458.19 433.35V448.21M454.19 433.35h8M454.19 448.21h8"/><path d="M458.19 436.78L454.19 444.78L462.19 444.78Z"/>
<path d="M457.83 425.14V443.91M453.83 425.14h8M453.83 443.91h8"/><path d="M457.83 430.53L453.83 438.53L461.83 438.53Z"/>
<path d="M317.43 463.85V471.67M313.43 463.85h8M313.43 471.67h8"/><path d="M317.43 463.76L313.43 471.76L321.43 471.76Z"/>
<path d="M334.29 462.29V472.45M330.29 462.29h8M330.29 472.45h8"/><path d="M334.29 463.37L330.29 471.37L338.29 471.37Z"/>
<path d="M313.77 473.62V482.23M309.77 473.62h8M309.77 482.23h8"/><path d="M313.77 473.92L309.77 481.92L317.77 481.92Z"/>
<path d="M325.13 479.1V486.13M321.13 479.1h8M321.13 486.13h8"/><path d="M325.13 478.62L321.13 486.62L329.13 486.62Z"/>
<path d="M348.96 481.83V490.44M344.96 481.83h8M344.96 490.44h8"/><path d="M348.96 482.13L344.96 490.13L352.96 490.13Z"/>
<path d="M331.36 482.62V489.65M327.36 482.62h8M327.36 489.65h8"/><path d="M331.36 482.13L327.36 490.13L335.36 490.13Z"/>
<path d="M342.73 473.62V479.1M338.73 473.62h8M338.73 479.1h8"/><path d="M342.73 472.36L338.73 480.36L346.73 480.36Z"/>
<path d="M365.09 465.41V477.14M361.09 465.41h8M361.09 477.14h8"/><path d="M365.09 467.28L361.09 475.28L369.09 475.28Z"/>
<path d="M310.47 479.1V483.79M306.47 479.1h8M306.47 483.79h8"/><path d="M310.47 477.44L306.47 485.44L314.47 485.44Z"/>
<path d="M352.26 478.32V483.79M348.26 478.32h8M348.26 483.79h8"/><path d="M352.26 477.05L348.26 485.05L356.26 485.05Z"/>
<path d="M330.26 463.46V473.62M326.26 463.46h8M326.26 473.62h8"/><path d="M330.26 464.54L326.26 472.54L334.26 472.54Z"/>
<path d="M320 478.32V489.26M316 478.32h8M316 489.26h8"/><path d="M320 479.79L316 487.79L324 487.79Z"/>
<path d="M339.43 470.11V475.58M335.43 470.11h8M335.43 475.58h8"/><path d="M339.43 468.84L335.43 476.84L343.43 476.84Z"/>
<path d="M307.54 469.32V477.14M303.54 469.32h8M303.54 477.14h8"/><path d="M307.54 469.23L303.54 477.23L311.54 477.23Z"/>
<path d="M580.62 421.23V451.73M576.62 421.23h8M576.62 451.73h8"/><path d="M580.62 432.48L576.62 440.48L584.62 440.48Z"/>
<path d="M636.71 455.25V491.22M632.71 455.25h8M632.71 491.22h8"/><path d="M636.71 469.23L632.71 477.23L640.71 477.23Z"/>
<path d="M580.26 426.32V452.9M576.26 426.32h8M576.26 452.9h8"/><path d="M580.26 435.61L576.26 443.61L584.26 443.61Z"/>
<path d="M601.15 434.14V471.67M597.15 434.14h8M597.15 471.67h8"/><path d="M601.15 448.9L597.15 456.9L605.15 456.9Z"/>
<path d="M595.65 457.2V485.35M591.65 457.2h8M591.65 485.35h8"/><path d="M595.65 467.28L591.65 475.28L599.65 475.28Z"/>
<path d="M593.45 462.29V481.83M589.45 462.29h8M589.45 481.83h8"/><path d="M593.45 468.06L589.45 476.06L597.45 476.06Z"/>
<path d="M579.16 456.81V479.49M575.16 456.81h8M575.16 479.49h8"/><path d="M579.16 464.15L575.16 472.15L583.16 472.15Z"/>
<path d="M598.58 432.57V455.25M594.58 432.57h8M594.58 455.25h8"/><path d="M598.58 439.91L594.58 447.91L602.58 447.91Z"/>
<path d="M613.61 457.2V480.66M609.61 457.2h8M609.61 480.66h8"/><path d="M613.61 464.93L609.61 472.93L617.61 472.93Z"/>
<path d="M576.59 457.99V473.62M572.59 457.99h8M572.59 473.62h8"/><path d="M576.59 461.8L572.59 469.8L580.59 469.8Z"/>
</g>
<g fill="none" stroke="#ff1a1a" stroke-width="1.4" stroke-opacity="0.85">
<path d="M252.55 430.62V451.73M248.55 430.62h8M248.55 451.73h8"/><circle cx="252.55" cy="441.17" r="3.8"/>
<path d="M258.05 461.5V470.11M254.05 461.5h8M254.05 470.11h8"/><circle cx="258.05" cy="465.8" r="3.8"/>
<path d="M266.48 451.34V456.03M262.48 451.34h8M262.48 456.03h8"/><circle cx="266.48" cy="453.68" r="3.8"/>
<path d="M262.08 482.42V486.33M258.08 482.42h8M258.08 486.33h8"/><circle cx="262.08" cy="484.38" r="3.8"/>
<path d="M278.06 403.84V431.59M274.06 403.84h8M274.06 431.59h8"/><circle cx="278.06" cy="417.72" r="3.8"/>
<path d="M281.69 439.61V456.03M277.69 439.61h8M277.69 456.03h8"/><circle cx="281.69" cy="447.82" r="3.8"/>
<path d="M295.44 474.41V477.53M291.44 474.41h8M291.44 477.53h8"/><circle cx="295.44" cy="475.97" r="3.8"/>
<path d="M298.01 473.23V476.36M294.01 473.23h8M294.01 476.36h8"/><circle cx="298.01" cy="474.8" r="3.8"/>
<path d="M302.4 462.68V466.59M298.4 462.68h8M298.4 466.59h8"/><circle cx="302.4" cy="464.63" r="3.8"/>
<path d="M306.44 469.32V472.45M302.44 469.32h8M302.44 472.45h8"/><circle cx="306.44" cy="470.89" r="3.8"/>
<path d="M308.27 481.83V484.96M304.27 481.83h8M304.27 484.96h8"/><circle cx="308.27" cy="483.4" r="3.8"/>
<path d="M295.44 487.5V490.63M291.44 487.5h8M291.44 490.63h8"/><circle cx="295.44" cy="489.07" r="3.8"/>
<path d="M300.2 495.13V498.25M296.2 495.13h8M296.2 498.25h8"/><circle cx="300.2" cy="496.69" r="3.8"/>
<path d="M305.34 497.47V500.6M301.34 497.47h8M301.34 500.6h8"/><circle cx="305.34" cy="499.04" r="3.8"/>
<path d="M293.61 505.29V509.2M289.61 505.29h8M289.61 509.2h8"/><circle cx="293.61" cy="507.25" r="3.8"/>
<path d="M328.25 498.65V511.16M324.25 498.65h8M324.25 511.16h8"/><circle cx="328.25" cy="504.9" r="3.8"/>
<path d="M332.83 497.08V500.99M328.83 497.08h8M328.83 500.99h8"/><circle cx="332.83" cy="499.04" r="3.8"/>
<path d="M335.39 472.06V475.97M331.39 472.06h8M331.39 475.97h8"/><circle cx="335.39" cy="474.01" r="3.8"/>
<path d="M342.73 472.84V476.75M338.73 472.84h8M338.73 476.75h8"/><circle cx="342.73" cy="474.8" r="3.8"/>
<path d="M343.46 486.33V493.37M339.46 486.33h8M339.46 493.37h8"/><circle cx="343.46" cy="489.85" r="3.8"/>
<path d="M350.79 471.67V474.8M346.79 471.67h8M346.79 474.8h8"/><circle cx="350.79" cy="473.23" r="3.8"/>
<path d="M355.92 474.8V477.92M351.92 474.8h8M351.92 477.92h8"/><circle cx="355.92" cy="476.36" r="3.8"/>
<path d="M356.66 479.1V482.23M352.66 479.1h8M352.66 482.23h8"/><circle cx="356.66" cy="480.66" r="3.8"/>
<path d="M359.95 460.33V463.46M355.95 460.33h8M355.95 463.46h8"/><circle cx="359.95" cy="461.89" r="3.8"/>
<path d="M362.89 462.29V465.41M358.89 462.29h8M358.89 465.41h8"/><circle cx="362.89" cy="463.85" r="3.8"/>
<path d="M365.09 469.32V472.45M361.09 469.32h8M361.09 472.45h8"/><circle cx="365.09" cy="470.89" r="3.8"/>
<path d="M365.45 482.62V485.74M361.45 482.62h8M361.45 485.74h8"/><circle cx="365.45" cy="484.18" r="3.8"/>
<path d="M369.85 463.46V467.37M365.85 463.46h8M365.85 467.37h8"/><circle cx="369.85" cy="465.41" r="3.8"/>
<path d="M373.7 463.46V467.37M369.7 463.46h8M369.7 467.37h8"/><circle cx="373.7" cy="465.41" r="3.8"/>
<path d="M377.37 478.71V481.83M373.37 478.71h8M373.37 481.83h8"/><circle cx="377.37" cy="480.27" r="3.8"/>
<path d="M384.15 457.99V471.28M380.15 457.99h8M380.15 471.28h8"/><circle cx="384.15" cy="464.63" r="3.8"/>
<path d="M388.18 467.76V471.67M384.18 467.76h8M384.18 471.67h8"/><circle cx="388.18" cy="469.71" r="3.8"/>
<path d="M390.38 469.71V472.84M386.38 469.71h8M386.38 472.84h8"/><circle cx="390.38" cy="471.28" r="3.8"/>
<path d="M398.81 468.15V472.06M394.81 468.15h8M394.81 472.06h8"/><circle cx="398.81" cy="470.11" r="3.8"/>
<path d="M402.84 466.59V470.5M398.84 466.59h8M398.84 470.5h8"/><circle cx="402.84" cy="468.54" r="3.8"/>
<path d="M407.61 468.54V479.49M403.61 468.54h8M403.61 479.49h8"/><circle cx="407.61" cy="474.01" r="3.8"/>
<path d="M411.64 472.84V476.75M407.64 472.84h8M407.64 476.75h8"/><circle cx="411.64" cy="474.8" r="3.8"/>
<path d="M419.34 453.68V459.94M415.34 453.68h8M415.34 459.94h8"/><circle cx="419.34" cy="456.81" r="3.8"/>
<path d="M423.37 447.43V452.12M419.37 447.43h8M419.37 452.12h8"/><circle cx="423.37" cy="449.77" r="3.8"/>
<path d="M425.57 448.21V452.9M421.57 448.21h8M421.57 452.9h8"/><circle cx="425.57" cy="450.56" r="3.8"/>
<path d="M427.77 456.03V460.72M423.77 456.03h8M423.77 460.72h8"/><circle cx="427.77" cy="458.38" r="3.8"/>
<path d="M424.1 463.46V467.37M420.1 463.46h8M420.1 467.37h8"/><circle cx="424.1" cy="465.41" r="3.8"/>
<path d="M425.57 468.15V472.06M421.57 468.15h8M421.57 472.06h8"/><circle cx="425.57" cy="470.11" r="3.8"/>
<path d="M424.1 472.06V475.97M420.1 472.06h8M420.1 475.97h8"/><circle cx="424.1" cy="474.01" r="3.8"/>
<path d="M427.03 472.84V476.75M423.03 472.84h8M423.03 476.75h8"/><circle cx="427.03" cy="474.8" r="3.8"/>
<path d="M430.33 465.02V468.93M426.33 465.02h8M426.33 468.93h8"/><circle cx="430.33" cy="466.98" r="3.8"/>
<path d="M431.07 474.01V491.22M427.07 474.01h8M427.07 491.22h8"/><circle cx="431.07" cy="482.62" r="3.8"/>
<path d="M438.76 401.29V448.21M434.76 401.29h8M434.76 448.21h8"/><circle cx="438.76" cy="424.75" r="3.8"/>
<path d="M449.03 444.3V475.58M445.03 444.3h8M445.03 475.58h8"/><circle cx="449.03" cy="459.94" r="3.8"/>
<path d="M439.5 461.11V465.02M435.5 461.11h8M435.5 465.02h8"/><circle cx="439.5" cy="463.07" r="3.8"/>
<path d="M438.03 466.59V470.5M434.03 466.59h8M434.03 470.5h8"/><circle cx="438.03" cy="468.54" r="3.8"/>
<path d="M439.5 472.84V476.75M435.5 472.84h8M435.5 476.75h8"/><circle cx="439.5" cy="474.8" r="3.8"/>
<path d="M442.06 477.53V481.44M438.06 477.53h8M438.06 481.44h8"/><circle cx="442.06" cy="479.49" r="3.8"/>
<path d="M442.06 483.4V488.09M438.06 483.4h8M438.06 488.09h8"/><circle cx="442.06" cy="485.74" r="3.8"/>
<path d="M439.5 479.49V507.64M435.5 479.49h8M435.5 507.64h8"/><circle cx="439.5" cy="493.56" r="3.8"/>
<path d="M449.03 468.54V473.23M445.03 468.54h8M445.03 473.23h8"/><circle cx="449.03" cy="470.89" r="3.8"/>
<path d="M450.49 476.36V481.05M446.49 476.36h8M446.49 481.05h8"/><circle cx="450.49" cy="478.71" r="3.8"/>
<path d="M465.52 449.77V456.03M461.52 449.77h8M461.52 456.03h8"/><circle cx="465.52" cy="452.9" r="3.8"/>
<path d="M469.56 460.72V465.41M465.56 460.72h8M465.56 465.41h8"/><circle cx="469.56" cy="463.07" r="3.8"/>
<path d="M473.22 462.29V466.98M469.22 462.29h8M469.22 466.98h8"/><circle cx="473.22" cy="464.63" r="3.8"/>
<path d="M476.52 466.2V470.89M472.52 466.2h8M472.52 470.89h8"/><circle cx="476.52" cy="468.54" r="3.8"/>
<path d="M478.72 470.11V485.74M474.72 470.11h8M474.72 485.74h8"/><circle cx="478.72" cy="477.92" r="3.8"/>
<path d="M439.13 401.29V448.99M435.13 401.29h8M435.13 448.99h8"/><circle cx="439.13" cy="425.14" r="3.8"/>
<path d="M483.48 434.14V446.65M479.48 434.14h8M479.48 446.65h8"/><circle cx="483.48" cy="440.39" r="3.8"/>
<path d="M485.68 442.74V450.56M481.68 442.74h8M481.68 450.56h8"/><circle cx="485.68" cy="446.65" r="3.8"/>
<path d="M484.95 451.34V457.59M480.95 451.34h8M480.95 457.59h8"/><circle cx="484.95" cy="454.47" r="3.8"/>
<path d="M473.22 461.11V465.02M469.22 461.11h8M469.22 465.02h8"/><circle cx="473.22" cy="463.07" r="3.8"/>
<path d="M475.42 468.15V472.06M471.42 468.15h8M471.42 472.06h8"/><circle cx="475.42" cy="470.11" r="3.8"/>
<path d="M483.48 475.58V481.83M479.48 475.58h8M479.48 481.83h8"/><circle cx="483.48" cy="478.71" r="3.8"/>
<path d="M490.45 457.2V461.11M486.45 457.2h8M486.45 461.11h8"/><circle cx="490.45" cy="459.16" r="3.8"/>
<path d="M493.75 454.86V458.77M489.75 454.86h8M489.75 458.77h8"/><circle cx="493.75" cy="456.81" r="3.8"/>
<path d="M497.41 453.29V457.2M493.41 453.29h8M493.41 457.2h8"/><circle cx="497.41" cy="455.25" r="3.8"/>
<path d="M506.94 450.56V455.25M502.94 450.56h8M502.94 455.25h8"/><circle cx="506.94" cy="452.9" r="3.8"/>
<path d="M511.71 432.57V448.21M507.71 432.57h8M507.71 448.21h8"/><circle cx="511.71" cy="440.39" r="3.8"/>
<path d="M519.41 432.57V465.41M515.41 432.57h8M515.41 465.41h8"/><circle cx="519.41" cy="448.99" r="3.8"/>
<path d="M528.94 405.99V435.7M524.94 405.99h8M524.94 435.7h8"/><circle cx="528.94" cy="420.84" r="3.8"/>
<path d="M538.47 444.69V472.06M534.47 444.69h8M534.47 472.06h8"/><circle cx="538.47" cy="458.38" r="3.8"/>
<path d="M543.97 439.22V483.79M539.97 439.22h8M539.97 483.79h8"/><circle cx="543.97" cy="461.5" r="3.8"/>
<path d="M558.63 415.76V450.95M554.63 415.76h8M554.63 450.95h8"/><circle cx="558.63" cy="433.35" r="3.8"/>
<path d="M561.93 417.72V448.99M557.93 417.72h8M557.93 448.99h8"/><circle cx="561.93" cy="433.35" r="3.8"/>
<path d="M568.16 452.12V458.38M564.16 452.12h8M564.16 458.38h8"/><circle cx="568.16" cy="455.25" r="3.8"/>
<path d="M574.39 444.69V456.42M570.39 444.69h8M570.39 456.42h8"/><circle cx="574.39" cy="450.56" r="3.8"/>
<path d="M564.13 469.71V481.44M560.13 469.71h8M560.13 481.44h8"/><circle cx="564.13" cy="475.58" r="3.8"/>
<path d="M559.36 481.83V492.78M555.36 481.83h8M555.36 492.78h8"/><circle cx="559.36" cy="487.31" r="3.8"/>
<path d="M622.78 422.8V436.09M618.78 422.8h8M618.78 436.09h8"/><circle cx="622.78" cy="429.44" r="3.8"/>
<path d="M640.01 426.32V443.52M636.01 426.32h8M636.01 443.52h8"/><circle cx="640.01" cy="434.92" r="3.8"/>
<path d="M647.34 433.75V445.47M643.34 433.75h8M643.34 445.47h8"/><circle cx="647.34" cy="439.61" r="3.8"/>
<path d="M529.67 400.71V434.72M525.67 400.71h8M525.67 434.72h8"/><circle cx="529.67" cy="417.72" r="3.8"/>
<path d="M560.46 416.15V447.43M556.46 416.15h8M556.46 447.43h8"/><circle cx="560.46" cy="431.79" r="3.8"/>
<path d="M611.05 395.82V427.88M607.05 395.82h8M607.05 427.88h8"/><circle cx="611.05" cy="411.85" r="3.8"/>
<path d="M645.87 362.2V442.74M641.87 362.2h8M641.87 442.74h8"/><circle cx="645.87" cy="402.47" r="3.8"/>
<path d="M429.23 461.89V465.8M425.23 461.89h8M425.23 465.8h8"/><circle cx="429.23" cy="463.85" r="3.8"/>
<path d="M426.3 453.29V456.42M422.3 453.29h8M422.3 456.42h8"/><circle cx="426.3" cy="454.86" r="3.8"/>
<path d="M430.33 464.24V468.93M426.33 464.24h8M426.33 468.93h8"/><circle cx="430.33" cy="466.59" r="3.8"/>
<path d="M430.33 465.02V469.71M426.33 465.02h8M426.33 469.71h8"/><circle cx="430.33" cy="467.37" r="3.8"/>
<path d="M428.87 451.73V455.64M424.87 451.73h8M424.87 455.64h8"/><circle cx="428.87" cy="453.68" r="3.8"/>
<path d="M449.39 465.41V470.89M445.39 465.41h8M445.39 470.89h8"/><circle cx="449.39" cy="468.15" r="3.8"/>
<path d="M442.43 474.8V477.92M438.43 474.8h8M438.43 477.92h8"/><circle cx="442.43" cy="476.36" r="3.8"/>
<path d="M438.03 480.27V485.74M434.03 480.27h8M434.03 485.74h8"/><circle cx="438.03" cy="483.01" r="3.8"/>
<path d="M440.23 479.1V482.23M436.23 479.1h8M436.23 482.23h8"/><circle cx="440.23" cy="480.66" r="3.8"/>
<path d="M499.61 452.51V456.42M495.61 452.51h8M495.61 456.42h8"/><circle cx="499.61" cy="454.47" r="3.8"/>
<path d="M491.18 457.59V460.72M487.18 457.59h8M487.18 460.72h8"/><circle cx="491.18" cy="459.16" r="3.8"/>
<path d="M493.75 458.38V461.5M489.75 458.38h8M489.75 461.5h8"/><circle cx="493.75" cy="459.94" r="3.8"/>
<path d="M491.18 451.34V456.03M487.18 451.34h8M487.18 456.03h8"/><circle cx="491.18" cy="453.68" r="3.8"/>
<path d="M495.21 456.81V461.5M491.21 456.81h8M491.21 461.5h8"/><circle cx="495.21" cy="459.16" r="3.8"/>
<path d="M491.55 457.2V459.55M487.55 457.2h8M487.55 459.55h8"/><circle cx="491.55" cy="458.38" r="3.8"/>
</g>
<g fill="none" stroke="#000" stroke-width="2.0" stroke-linejoin="round">
<polyline points="270.88,493.37 344.19,457.2 417.5,430.23 490.82,427.1 564.13,431.2 637.44,423.38 710.75,408.72 784.06,391.29" stroke-linecap="square"/>
<polyline points="270.88,427.88 344.19,387.22 417.5,366.11 490.82,357.23 564.13,359.34 637.44,344.49 710.75,322.83 784.06,298.47" stroke-dasharray="12.1 3 1.9 3"/>
<polyline points="270.88,382.65 344.19,355.55 417.5,358.68 490.82,408.72 564.13,476.75 637.44,469.83 710.75,465.88 784.06,462.09" stroke-dasharray="1.93 3.17"/>
</g>
<g stroke="#000" fill="none">
<path d="M124.26 617.5v-9.2M197.57 617.5v-9.2M270.88 617.5v-9.2M344.19 617.5v-9.2M417.5 617.5v-9.2M490.82 617.5v-9.2M564.13 617.5v-9.2M637.44 617.5v-9.2M710.75 617.5v-9.2M784.06 617.5v-9.2M857.38 617.5v-9.2M930.69 617.5v-9.2M1004 617.5v-9.2M87.6 597.95h9.2M87.6 519.76h9.2M87.6 441.56h9.2M87.6 363.37h9.2M87.6 285.18h9.2M87.6 206.98h9.2M87.6 128.79h9.2M87.6 50.6h9.2" stroke-width="2.0"/>
<path d="M160.91 617.5v-5.4M234.22 617.5v-5.4M307.54 617.5v-5.4M380.85 617.5v-5.4M454.16 617.5v-5.4M527.47 617.5v-5.4M600.78 617.5v-5.4M674.1 617.5v-5.4M747.41 617.5v-5.4M820.72 617.5v-5.4M894.03 617.5v-5.4M967.34 617.5v-5.4M87.6 558.85h5.4M87.6 480.66h5.4M87.6 402.47h5.4M87.6 324.27h5.4M87.6 246.08h5.4M87.6 167.89h5.4M87.6 89.69h5.4" stroke-width="1.5"/>
<rect x="87.6" y="11.5" width="916.4" height="606" stroke-width="2.1"/>
</g>
<g font-family='"Liberation Sans", sans-serif' font-size="26.6" fill="#000" stroke="#000" stroke-width="0.3">
<g text-anchor="middle">
<text transform="translate(124.26 646.9) scale(1 1.045)">0</text>
<text transform="translate(197.57 646.9) scale(1 1.045)">2</text>
<text transform="translate(270.88 646.9) scale(1 1.045)">4</text>
<text transform="translate(344.19 646.9) scale(1 1.045)">6</text>
<text transform="translate(417.5 646.9) scale(1 1.045)">8</text>
<text transform="translate(490.82 646.9) scale(1 1.045)">10</text>
<text transform="translate(564.13 646.9) scale(1 1.045)">12</text>
<text transform="translate(637.44 646.9) scale(1 1.045)">14</text>
<text transform="translate(710.75 646.9) scale(1 1.045)">16</text>
<text transform="translate(784.06 646.9) scale(1 1.045)">18</text>
<text transform="translate(857.38 646.9) scale(1 1.045)">20</text>
<text transform="translate(930.69 646.9) scale(1 1.045)">22</text>
<text transform="translate(1004 646.9) scale(1 1.045)">24</text>
</g><g text-anchor="end">
<text transform="translate(77.4 607.55) scale(1 1.045)">0</text>
<text transform="translate(77.4 529.36) scale(1 1.045)">2</text>
<text transform="translate(77.4 451.16) scale(1 1.045)">4</text>
<text transform="translate(77.4 372.97) scale(1 1.045)">6</text>
<text transform="translate(77.4 294.78) scale(1 1.045)">8</text>
<text transform="translate(77.4 216.58) scale(1 1.045)">10</text>
<text transform="translate(77.4 138.39) scale(1 1.045)">12</text>
<text transform="translate(77.4 60.2) scale(1 1.045)">14</text>
</g></g>
<rect x="536.9" y="22.9" width="455.3" height="103.9" rx="4.5" ry="4.5" fill="#fff" fill-opacity="0.8" stroke="#cccccc" stroke-width="2.6"/>
<g fill="none" stroke="#000" stroke-width="2.0">
<path d="M545.9 39.9h47"/>
<path d="M545.9 72.5h46.5" stroke-dasharray="12.1 3 1.9 3"/>
<path d="M545.9 105.1h44" stroke-dasharray="1.93 3.17"/>
</g>
<g font-family='"Liberation Sans", sans-serif' font-size="22.8" fill="#000" stroke="#000" stroke-width="0.3">
<text transform="translate(610.7 48.3) scale(1 1.045)">MWG-12</text>
<text transform="translate(610.7 80.9) scale(1 1.045)">MWG-12 (no novae)</text>
<text transform="translate(610.7 113.5) scale(1 1.045)">MWG-10</text>
<text transform="translate(926 48.3) scale(1 1.045)">SMT</text>
<text transform="translate(926 80.9) scale(1 1.045)">IRAM</text>
</g>
<g fill="none" stroke="#4d4d4d" stroke-width="1.4" stroke-opacity="0.88">
<path d="M885 28.8V51.4M881 28.8h8M881 51.4h8"/>
<path d="M885 36.1L881 44.1L889 44.1Z"/>
</g>
<g fill="none" stroke="#ff1a1a" stroke-width="1.4" stroke-opacity="0.85">
<path d="M885 61.4V84M881 61.4h8M881 84h8"/>
<circle cx="885" cy="72.7" r="3.8"/>
</g>
<g transform="translate(28.6 314.8) rotate(-90) scale(1 1.05)" font-family='"Liberation Sans", sans-serif' fill="#000" stroke="#000" stroke-width="0.4">
<text x="0" y="0" text-anchor="middle" font-size="33.8"><tspan font-size="23.2" dy="-12.2">18</tspan><tspan dy="12.2">O/</tspan><tspan font-size="23.2" dy="-12.2" dx="-1">17</tspan><tspan dy="12.2">O</tspan></text>
</g>
<text transform="translate(545.8 687.3) scale(1 1.02)" text-anchor="middle" font-family='"Liberation Sans", sans-serif' font-size="33.2" fill="#000" stroke="#000" stroke-width="0.4">R<tspan font-size="23.2" dy="5">GC</tspan><tspan dy="-5"> (kpc)</tspan></text>
<text x="516.2" y="756.6" text-anchor="middle" font-family='"Liberation Serif", serif' font-size="38" fill="#000" letter-spacing="0.8">(<tspan font-size="35.5">a</tspan>)</text>
</g>
<g id="panel-b">
<g fill="none" stroke="#4d4d4d" stroke-width="1.45" stroke-opacity="0.88">
<path d="M1192.58 507.47V521.66M1188.58 507.47h8M1188.58 521.66h8"/><path d="M1192.58 507.66L1185.68 521.46L1199.48 521.46Z"/>
<path d="M1229.3 481.64V500.48M1225.3 481.64h8M1225.3 500.48h8"/><path d="M1229.3 484.16L1222.4 497.96L1236.2 497.96Z"/>
<path d="M1266.02 493.9V506.05M1262.02 493.9h8M1262.02 506.05h8"/><path d="M1266.02 493.08L1259.12 506.88L1272.92 506.88Z"/>
<path d="M1302.74 525.51V529.56M1298.74 525.51h8M1298.74 529.56h8"/><path d="M1302.74 520.63L1295.84 534.43L1309.64 534.43Z"/>
<path d="M1339.46 520.04V523.08M1335.46 520.04h8M1335.46 523.08h8"/><path d="M1339.46 514.66L1332.56 528.46L1346.36 528.46Z"/>
<path d="M1376.18 538.78V544.86M1372.18 538.78h8M1372.18 544.86h8"/><path d="M1376.18 534.92L1369.28 548.72L1383.08 548.72Z"/>
<path d="M1412.9 493.79V498.86M1408.9 493.79h8M1408.9 498.86h8"/><path d="M1412.9 489.43L1406 503.23L1419.8 503.23Z"/>
<path d="M1449.62 501.7V508.79M1445.62 501.7h8M1445.62 508.79h8"/><path d="M1449.62 498.34L1442.72 512.14L1456.52 512.14Z"/>
<path d="M1486.34 490.65V495.72M1482.34 490.65h8M1482.34 495.72h8"/><path d="M1486.34 486.29L1479.44 500.09L1493.24 500.09Z"/>
<path d="M1523.06 471.91V479M1519.06 471.91h8M1519.06 479h8"/><path d="M1523.06 468.56L1516.16 482.36L1529.96 482.36Z"/>
<path d="M1559.78 472.92V480.02M1555.78 472.92h8M1555.78 480.02h8"/><path d="M1559.78 469.57L1552.88 483.37L1566.68 483.37Z"/>
<path d="M1596.5 473.43V480.52M1592.5 473.43h8M1592.5 480.52h8"/><path d="M1596.5 470.08L1589.6 483.88L1603.4 483.88Z"/>
<path d="M1633.22 514.46V521.56M1629.22 514.46h8M1629.22 521.56h8"/><path d="M1633.22 511.11L1626.32 524.91L1640.12 524.91Z"/>
<path d="M1669.94 485.28V505.55M1665.94 485.28h8M1665.94 505.55h8"/><path d="M1669.94 488.52L1663.04 502.32L1676.84 502.32Z"/>
<path d="M1706.66 463.4V493.59M1702.66 463.4h8M1702.66 493.59h8"/><path d="M1706.66 471.6L1699.76 485.4L1713.56 485.4Z"/>
<path d="M1743.38 269.48V341.82M1739.38 269.48h8M1739.38 341.82h8"/><path d="M1743.38 298.75L1736.48 312.55L1750.28 312.55Z"/>
<path d="M1780.1 279.21V331.28M1776.1 279.21h8M1776.1 331.28h8"/><path d="M1780.1 298.34L1773.2 312.14L1787 312.14Z"/>
<path d="M1816.82 494.1V531.79M1812.82 494.1h8M1812.82 531.79h8"/><path d="M1816.82 506.04L1809.92 519.84L1823.72 519.84Z"/>
<path d="M1853.54 362.59V427.43M1849.54 362.59h8M1849.54 427.43h8"/><path d="M1853.54 388.11L1846.64 401.91L1860.44 401.91Z"/>
<path d="M1926.98 441.31V474.14M1922.98 441.31h8M1922.98 474.14h8"/><path d="M1926.98 450.83L1920.08 464.63L1933.88 464.63Z"/>
<path d="M2000.42 393.19V545.57M1996.42 393.19h8M1996.42 545.57h8"/><path d="M2000.42 462.48L1993.52 476.28L2007.32 476.28Z"/>
</g>
<g fill="none" stroke="#ff1a1a" stroke-width="1.45" stroke-opacity="0.85">
<path d="M1302.74 457.83V463.1M1298.74 457.83h8M1298.74 463.1h8"/><circle cx="1302.74" cy="460.46" r="6.8"/>
<path d="M1339.46 545.77V546.99M1335.46 545.77h8M1335.46 546.99h8"/><circle cx="1339.46" cy="546.38" r="6.8"/>
<path d="M1376.18 515.27V517.71M1372.18 515.27h8M1372.18 517.71h8"/><circle cx="1376.18" cy="516.49" r="6.8"/>
<path d="M1412.9 503.62V506.05M1408.9 503.62h8M1408.9 506.05h8"/><circle cx="1412.9" cy="504.84" r="6.8"/>
<path d="M1449.62 493.69V499.77M1445.62 493.69h8M1445.62 499.77h8"/><circle cx="1449.62" cy="496.73" r="6.8"/>
<path d="M1486.34 494.5V496.94M1482.34 494.5h8M1482.34 496.94h8"/><circle cx="1486.34" cy="495.72" r="6.8"/>
<path d="M1523.06 496.53V500.18M1519.06 496.53h8M1519.06 500.18h8"/><circle cx="1523.06" cy="498.35" r="6.8"/>
<path d="M1559.78 449.11V455.6M1555.78 449.11h8M1555.78 455.6h8"/><circle cx="1559.78" cy="452.36" r="6.8"/>
<path d="M1596.5 488.63V507.68M1592.5 488.63h8M1592.5 507.68h8"/><circle cx="1596.5" cy="498.15" r="6.8"/>
<path d="M1633.22 438.98V455.19M1629.22 438.98h8M1629.22 455.19h8"/><circle cx="1633.22" cy="447.09" r="6.8"/>
<path d="M1669.94 360.56V392.98M1665.94 360.56h8M1665.94 392.98h8"/><circle cx="1669.94" cy="376.77" r="6.8"/>
<path d="M1706.66 392.58V416.9M1702.66 392.58h8M1702.66 416.9h8"/><circle cx="1706.66" cy="404.74" r="6.8"/>
</g>
<g fill="none" stroke="#000" stroke-width="2.0" stroke-linejoin="round">
<polyline points="1321.1,548.91 1394.54,455.19 1467.98,385.28 1541.42,377.18 1614.86,387.82 1688.3,367.55 1761.74,329.56 1835.18,284.37" stroke-linecap="square"/>
<polyline points="1321.1,379.21 1394.54,273.84 1467.98,219.13 1541.42,196.13 1614.86,201.6 1688.3,163.1 1761.74,106.97 1835.18,43.85" stroke-dasharray="12.1 3 1.9 3"/>
<polyline points="1321.1,261.98 1394.54,191.77 1467.98,199.88 1541.42,329.56 1614.86,505.85 1688.3,487.92 1761.74,477.69 1835.18,467.86" stroke-dasharray="1.93 3.17"/>
</g>
<g stroke="#000" fill="none">
<path d="M1174.22 617.3v-9.2M1247.66 617.3v-9.2M1321.1 617.3v-9.2M1394.54 617.3v-9.2M1467.98 617.3v-9.2M1541.42 617.3v-9.2M1614.86 617.3v-9.2M1688.3 617.3v-9.2M1761.74 617.3v-9.2M1835.18 617.3v-9.2M1908.62 617.3v-9.2M1982.06 617.3v-9.2M2055.5 617.3v-9.2M1137.5 617.3h9.2M1137.5 515.98h9.2M1137.5 414.67h9.2M1137.5 313.35h9.2M1137.5 212.03h9.2M1137.5 110.72h9.2M1137.5 9.4h9.2" stroke-width="2.0"/>
<path d="M1210.94 617.3v-5.4M1284.38 617.3v-5.4M1357.82 617.3v-5.4M1431.26 617.3v-5.4M1504.7 617.3v-5.4M1578.14 617.3v-5.4M1651.58 617.3v-5.4M1725.02 617.3v-5.4M1798.46 617.3v-5.4M1871.9 617.3v-5.4M1945.34 617.3v-5.4M2018.78 617.3v-5.4M1137.5 566.64h5.4M1137.5 465.32h5.4M1137.5 364.01h5.4M1137.5 262.69h5.4M1137.5 161.38h5.4M1137.5 60.06h5.4" stroke-width="1.5"/>
<rect x="1137.5" y="9.4" width="918" height="607.9" stroke-width="2.1"/>
</g>
<g font-family='"Liberation Sans", sans-serif' font-size="26.6" fill="#000" stroke="#000" stroke-width="0.3">
<g text-anchor="middle">
<text transform="translate(1174.22 646.9) scale(1 1.045)">0</text>
<text transform="translate(1247.66 646.9) scale(1 1.045)">2</text>
<text transform="translate(1321.1 646.9) scale(1 1.045)">4</text>
<text transform="translate(1394.54 646.9) scale(1 1.045)">6</text>
<text transform="translate(1467.98 646.9) scale(1 1.045)">8</text>
<text transform="translate(1541.42 646.9) scale(1 1.045)">10</text>
<text transform="translate(1614.86 646.9) scale(1 1.045)">12</text>
<text transform="translate(1688.3 646.9) scale(1 1.045)">14</text>
<text transform="translate(1761.74 646.9) scale(1 1.045)">16</text>
<text transform="translate(1835.18 646.9) scale(1 1.045)">18</text>
<text transform="translate(1908.62 646.9) scale(1 1.045)">20</text>
<text transform="translate(1982.06 646.9) scale(1 1.045)">22</text>
<text transform="translate(2055.5 646.9) scale(1 1.045)">24</text>
</g><g text-anchor="end">
<text transform="translate(1127.3 626.9) scale(1 1.045)">2</text>
<text transform="translate(1127.3 525.58) scale(1 1.045)">3</text>
<text transform="translate(1127.3 424.27) scale(1 1.045)">4</text>
<text transform="translate(1127.3 322.95) scale(1 1.045)">5</text>
<text transform="translate(1127.3 221.63) scale(1 1.045)">6</text>
<text transform="translate(1127.3 120.32) scale(1 1.045)">7</text>
<text transform="translate(1127.3 19) scale(1 1.045)">8</text>
</g></g>
<rect x="1148.6" y="21.3" width="456" height="103.8" rx="4.5" ry="4.5" fill="#fff" fill-opacity="0.8" stroke="#cccccc" stroke-width="2.6"/>
<g fill="none" stroke="#000" stroke-width="2.0">
<path d="M1157.3 38h47"/>
<path d="M1157.3 70.6h46.5" stroke-dasharray="12.1 3 1.9 3"/>
<path d="M1157.3 103.2h44" stroke-dasharray="1.93 3.17"/>
</g>
<g font-family='"Liberation Sans", sans-serif' font-size="22.8" fill="#000" stroke="#000" stroke-width="0.3">
<text transform="translate(1222.4 46.4) scale(1 1.045)">MWG-12</text>
<text transform="translate(1222.4 79) scale(1 1.045)">MWG-12 (no novae)</text>
<text transform="translate(1222.4 111.6) scale(1 1.045)">MWG-10</text>
<text transform="translate(1538 46.4) scale(1 1.045)">SMT</text>
<text transform="translate(1538 79) scale(1 1.045)">IRAM</text>
</g>
<g fill="none" stroke="#4d4d4d" stroke-width="1.4" stroke-opacity="0.88">
<path d="M1497.4 26.9V49.5M1493.4 26.9h8M1493.4 49.5h8"/>
<path d="M1497.4 31.3L1490.5 45.1L1504.3 45.1Z"/>
</g>
<g fill="none" stroke="#ff1a1a" stroke-width="1.4" stroke-opacity="0.85">
<path d="M1497.4 59.5V82.1M1493.4 59.5h8M1493.4 82.1h8"/>
<circle cx="1497.4" cy="70.8" r="6.8"/>
</g>
<g transform="translate(1093.4 313.4) rotate(-90) scale(1 1.05)" font-family='"Liberation Sans", sans-serif' fill="#000" stroke="#000" stroke-width="0.4">
<text x="0" y="0" text-anchor="middle" font-size="33.8"><tspan font-size="23.2" dy="-12.2">18</tspan><tspan dy="12.2">O/</tspan><tspan font-size="23.2" dy="-12.2" dx="-1">17</tspan><tspan dy="12.2">O</tspan></text>
</g>
<text transform="translate(1596.5 687.3) scale(1 1.02)" text-anchor="middle" font-family='"Liberation Sans", sans-serif' font-size="33.2" fill="#000" stroke="#000" stroke-width="0.4">R<tspan font-size="23.2" dy="5">GC</tspan><tspan dy="-5"> (kpc)</tspan></text>
<text x="1579" y="756.6" text-anchor="middle" font-family='"Liberation Serif", serif' font-size="38" fill="#000" letter-spacing="0.8">(<tspan font-size="35.5">b</tspan>)</text>
</g>
</svg>
</body></html>
